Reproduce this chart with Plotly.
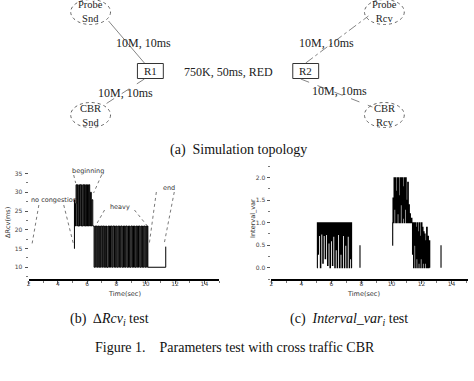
import plotly.graph_objects as go

W, H = 474, 381

# ---------------- data ----------------
# (b) ΔRcv test : step series (time in sec, value)
rcv_time = [5.10, 5.13, 5.16, 5.20, 5.24, 5.29, 5.33, 5.38, 5.44, 5.47, 5.52, 5.58, 5.62, 5.66,
            5.73, 5.78, 5.81, 5.87, 5.92, 5.96, 6.02, 6.08, 6.12, 6.17, 6.22, 6.28, 6.32, 6.38,
            6.47, 6.52, 6.58, 6.62, 6.69, 6.74, 6.79, 6.85, 6.90, 6.96, 7.03, 7.07, 7.13, 7.19,
            7.24, 7.31, 7.35, 7.42, 7.47, 7.52, 7.59, 7.64, 7.70, 7.75, 7.82, 7.86, 7.92, 7.98,
            8.03, 8.09, 8.15, 8.20, 8.26, 8.31, 8.37, 8.43, 8.48, 8.54, 8.60, 8.65, 8.71, 8.77,
            8.82, 8.88, 8.93, 8.99, 9.05, 9.10, 9.16, 9.22, 9.27, 9.33, 9.38, 9.44, 9.50, 9.55,
            9.61, 9.67, 9.72, 9.78, 9.83, 9.89, 9.95, 10.00, 10.06, 10.10, 10.14, 11.36]
rcv_value = [15, 28, 21, 27, 32, 21, 32, 21, 32, 21, 32, 21, 32, 21,
             32, 21, 32, 21, 32, 21, 32, 21, 32, 21, 30, 21, 28, 21,
             10, 21, 10, 21, 10, 21, 10, 21, 10, 21, 10, 21, 10, 21,
             10, 21, 10, 21, 10, 21, 10, 21, 10, 21, 10, 21, 10, 21,
             10, 21, 10, 21, 10, 21, 10, 21, 10, 21, 10, 21, 10, 21,
             10, 21, 10, 21, 10, 21, 10, 21, 10, 21, 10, 21, 10, 21,
             10, 21, 10, 21, 10, 21, 10, 21, 10, 21, 10, 15.5]

# (c) Interval_var test : step series, None = gap
ivar_time = [5.03, 5.06, 5.10, 5.13, 5.18, 5.21, 5.26, 5.29, 5.34, 5.37, 5.42, 5.45, 5.50, 5.53,
             5.58, 5.61, 5.66, 5.69, 5.74, 5.77, 5.82, 5.85, 5.90, 5.93, 5.98, 6.01, 6.06, 6.09,
             6.14, 6.17, 6.22, 6.25, 6.30, 6.33, 6.38, 6.41, 6.46, 6.49, 6.54, 6.57, 6.62, 6.65,
             6.70, 6.73, 6.78, 6.81, 6.86, 6.89, 6.94, 6.97, 7.02, 7.05, 7.10, 7.13, 7.18, 7.21,
             7.26, 7.29, 7.34, 7.37,
             None, 7.90, 7.90,
             None, 10.05, 10.08, 10.10, 10.14, 10.17, 10.21, 10.24, 10.28, 10.31, 10.35, 10.38,
             10.42, 10.45, 10.49, 10.52, 10.56, 10.59, 10.63, 10.66, 10.70, 10.73, 10.77, 10.80,
             10.84, 10.87, 10.91, 10.94, 10.98, 11.01, 11.05, 11.08, 11.12, 11.15, 11.19, 11.22,
             11.26, 11.30, 11.36,
             11.40, 11.43, 11.47, 11.50, 11.54, 11.57, 11.61, 11.64, 11.68, 11.71, 11.75, 11.78,
             11.82, 11.85, 11.89, 11.92, 11.96, 11.99, 12.03, 12.06, 12.10, 12.13, 12.17, 12.20,
             12.24, 12.27, 12.31, 12.34, 12.38, 12.42, 12.46, 12.50, 12.55,
             None, 13.30, 13.30]
ivar_value = [0.0, 1.0, 0.3, 1.0, 0.72, 1.0, 0.0, 1.0, 0.75, 1.0, 0.1, 1.0, 0.72, 1.0,
              0.2, 1.0, 0.74, 1.0, 0.05, 1.0, 0.55, 1.0, 0.0, 1.0, 0.6, 1.0, 0.05, 1.0,
              0.7, 1.0, 0.0, 1.0, 0.4, 1.0, 0.0, 1.0, 0.74, 1.0, 0.0, 1.0, 0.3, 1.0,
              0.0, 1.0, 0.72, 1.0, 0.0, 1.0, 0.5, 1.0, 0.0, 1.0, 0.7, 1.0, 0.0, 1.0,
              0.2, 1.0, 0.0, 0.0,
              None, 0.0, 0.5,
              None, 0.5, 1.0, 1.55, 1.0, 2.0, 1.3, 2.0, 1.0, 1.7, 1.0, 2.0,
              1.2, 2.0, 1.0, 1.6, 1.0, 2.0, 1.4, 2.0, 1.0, 2.0, 1.1, 1.8,
              1.0, 2.0, 1.3, 2.0, 1.0, 1.5, 1.0, 1.9, 1.0, 1.4, 1.0, 1.2,
              1.0, 1.1, 1.0,
              0.3, 1.0, 0.0, 1.0, 0.5, 1.0, 0.0, 0.9, 0.2, 1.0, 0.0, 0.8,
              0.1, 1.0, 0.0, 0.7, 0.2, 1.0, 0.0, 0.9, 0.1, 0.8, 0.0, 0.75,
              0.1, 0.6, 0.0, 0.9, 0.0, 0.7, 0.0, 0.6, 0.0,
              None, 0.0, 0.5]

x_ticks = [2, 4, 6, 8, 10, 12, 14]
rcv_ticks = [10, 15, 20, 25, 30, 35]
ivar_ticks = [0.0, 0.5, 1.0, 1.5, 2.0]
ivar_tick_text = ["0.0", "0.5", "1.0", "1.5", "2.0"]

# topology
nodes = [("Probe<br>Snd", 89, 12), ("Probe<br>Rcv", 384, 12), ("CBR<br>Snd", 89, 115), ("CBR<br>Rcv", 384, 115)]
routers = [("R1", 149, 71), ("R2", 305, 71)]
link_labels = [("10M, 10ms", 142, 43), ("10M, 10ms", 326, 43), ("10M, 10ms", 124, 93),
               ("10M, 10ms", 339, 91), ("750K, 50ms, RED", 227, 72)]

# ---------------- figure ----------------
def px(x):
    return x / W

def py(y):
    return 1 - y / H

fig = go.Figure()
fig.add_trace(go.Scatter(x=rcv_time, y=rcv_value, mode="lines", line=dict(color="black", width=1.0, shape="hv"),
                         xaxis="x", yaxis="y", showlegend=False, connectgaps=False))
fig.add_trace(go.Scatter(x=ivar_time, y=ivar_value, mode="lines", line=dict(color="black", width=1.1, shape="hv"),
                         xaxis="x2", yaxis="y2", showlegend=False, connectgaps=False))

tickfont = dict(family="DejaVu Sans", size=6, color="#444")
common_x = dict(showgrid=False, zeroline=False, showline=True, linecolor="black", linewidth=2,
                ticks="outside", ticklen=3, tickcolor="#555", tickwidth=1, tickfont=tickfont,
                ticklabelstandoff=-5,
                tickvals=x_ticks, ticktext=[str(v) for v in x_ticks],
                minor=dict(dtick=1, ticks="outside", ticklen=2, tickcolor="#777"))
common_y = dict(showgrid=False, zeroline=False, showline=False, ticks="outside", ticklen=3,
                tickcolor="#555", tickwidth=1, tickfont=tickfont, ticklabelstandoff=1)

fig.update_layout(
    width=W, height=H, margin=dict(l=0, r=0, t=0, b=0),
    paper_bgcolor="white", plot_bgcolor="white", showlegend=False,
    xaxis=dict(domain=[px(26.7), px(218)], range=[2, 15], anchor="y", **common_x),
    yaxis=dict(domain=[py(279), py(166)], range=[6.87, 37], anchor="x", tickvals=rcv_ticks,
               ticktext=[str(v) for v in rcv_ticks],
               minor=dict(dtick=2.5, tick0=0, ticks="outside", ticklen=2, tickcolor="#777"), **common_y),
    xaxis2=dict(domain=[px(270.6), px(468)], range=[2, 15.1], anchor="y2", **common_x),
    yaxis2=dict(domain=[py(279), py(166)], range=[-0.25, 2.26], anchor="x2", tickvals=ivar_ticks,
                ticktext=ivar_tick_text,
                minor=dict(dtick=0.25, tick0=0, ticks="outside", ticklen=2, tickcolor="#777"), **common_y),
)

shapes = []
annots = []
serif = "Liberation Serif"


def note(text, x, y, font, **kw):
    annots.append(dict(text=text, x=px(x), y=py(y), xref="paper", yref="paper", showarrow=False,
                       xanchor="center", yanchor="middle", font=font, align="center", **kw))


for label, cx, cy in nodes:
    shapes.append(dict(type="circle", xref="paper", yref="paper", x0=px(cx - 20), x1=px(cx + 20),
                       y0=py(cy - 12.5), y1=py(cy + 12.5), line=dict(color="#555", width=0.9, dash="dot")))
    note(label, cx, cy, dict(family=serif, size=10.5, color="#222"))
for label, cx, cy in routers:
    shapes.append(dict(type="rect", xref="paper", yref="paper", x0=px(cx - 13), x1=px(cx + 13),
                       y0=py(cy - 7.5), y1=py(cy + 7.5), line=dict(color="#333", width=1)))
    note(label, cx, cy, dict(family=serif, size=11, color="#222"))
for label, cx, cy in link_labels:
    note(label, cx, cy, dict(family=serif, size=12, color="#222"))

links = [((107, 21), (143, 63), "solid"), ((143, 79), (101, 106), "dash"),
         ((305, 63), (368, 16), "dashdot"), ((300, 79), (372, 107), "dash")]
for (x0, y0), (x1, y1), dash in links:
    shapes.append(dict(type="line", xref="paper", yref="paper", x0=px(x0), y0=py(y0), x1=px(x1), y1=py(y1),
                       line=dict(color="#666", width=0.8, dash=dash)))

# chart annotation pointers
pointers = [((37, 205), (30, 245)), ((62, 205), (72, 245)), ((72, 175), (74, 183)), ((100, 175), (92, 193)),
            ((103, 210), (95, 224)), ((133, 210), (146, 226)), ((155, 192), (148, 243)), ((173, 192), (163, 243))]
for (x0, y0), (x1, y1) in pointers:
    shapes.append(dict(type="line", xref="paper", yref="paper", x0=px(x0), y0=py(y0), x1=px(x1), y1=py(y1),
                       line=dict(color="#555", width=0.8, dash="dot")))
small = dict(family="DejaVu Sans", size=6.5, color="#333")
for label, cx, cy in [("no congestion", 52, 200), ("beginning", 86, 171), ("heavy", 118, 207), ("end", 168, 188)]:
    note(label, cx, cy, small)

# axis titles
note("Time(sec)", 123, 294, small)
note("Time(sec)", 363, 294, small)
note("ΔRcv(ms)", 6, 222, small, textangle=-90)
note("Interval_var", 252, 218, small, textangle=-90)

# captions
cap = dict(family=serif, size=14, color="#111")
note("(a)  Simulation topology", 237, 150, cap)
note("(b)  ∆<i>Rcv<sub>i</sub></i> test", 108, 319, cap)
note("(c)  <i>Interval_var<sub>i</sub></i> test", 348, 319, cap)
note("Figure 1.    Parameters test with cross traffic CBR", 234, 347, cap)

fig.update_layout(shapes=shapes, annotations=annots)
fig.write_html("out.html", config={"displayModeBar": False},
               post_script="document.body.style.margin='0';document.body.style.overflow='hidden';")
